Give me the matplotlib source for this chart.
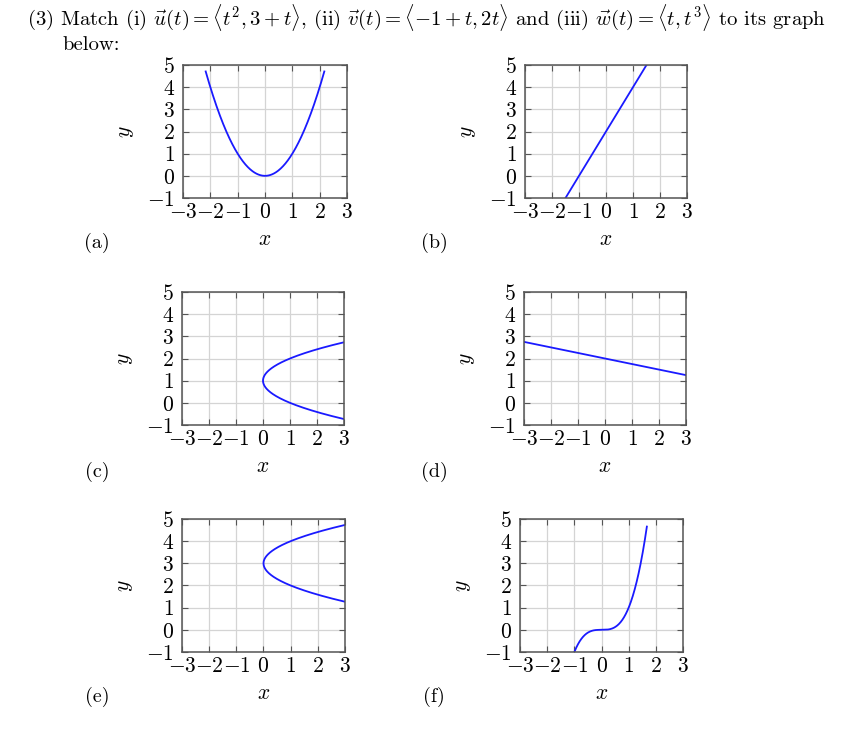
import numpy as np
import matplotlib
matplotlib.use("Agg")
import matplotlib.pyplot as plt

plt.rcParams['mathtext.fontset'] = 'cm'
plt.rcParams['font.family'] = ['cmr10', 'DejaVu Serif']
plt.rcParams['axes.unicode_minus'] = False

# ---- data ----
panel_labels = ["(a)", "(b)", "(c)", "(d)", "(e)", "(f)"]
x_ticks = [-3, -2, -1, 0, 1, 2, 3]
y_ticks = [-1, 0, 1, 2, 3, 4, 5]
x_tick_labels = [r"$-3$", r"$-2$", r"$-1$", r"$0$", r"$1$", r"$2$", r"$3$"]
y_tick_labels = [r"$-1$", r"$0$", r"$1$", r"$2$", r"$3$", r"$4$", r"$5$"]
x_limits = [-3, 3]
y_limits = [-1, 5]

# parameter ranges for each curve
t_a = [-2.17, 2.17]      # (t, t^2)
t_b = [-0.5, 2.5]        # (-1+t, 2t)
t_c = [-1.732, 1.732]    # (t^2, 1+t)
t_d = [-3.0, 3.0]        # (t, 2 - t/4)
t_e = [-1.732, 1.732]    # (t^2, 3+t)
t_f = [-1.0, 1.67]       # (t, t^3)

def curve(rng, fx, fy, n=300):
    t = np.linspace(rng[0], rng[1], n)
    return fx(t), fy(t)

curves = [
    curve(t_a, lambda t: t, lambda t: t**2),
    curve(t_b, lambda t: -1 + t, lambda t: 2 * t),
    curve(t_c, lambda t: t**2, lambda t: 1 + t),
    curve(t_d, lambda t: t, lambda t: 2 - t / 4),
    curve(t_e, lambda t: t**2, lambda t: 3 + t),
    curve(t_f, lambda t: t, lambda t: t**3),
]

W, H = 862, 732
fig = plt.figure(figsize=(W / 100, H / 100), dpi=100)

# axes boxes in pixels: x0, x1, y0(top), y1(bottom)
boxes = [
    (183, 347, 65, 198),
    (525, 687, 65, 198),
    (182, 344, 292, 425),
    (524, 686, 292, 425),
    (182, 345, 519, 652),
    (520, 683, 519, 652),
]
label_pos = [(97, 243), (434, 243), (97, 472), (434, 472), (97, 697), (434, 697)]

fs = 15.5
spine_col = '#555555'
for i, (x0, x1, y0, y1) in enumerate(boxes):
    w, h = x1 - x0, y1 - y0
    ax = fig.add_axes([x0 / W, 1 - y1 / H, w / W, h / H])
    xs, ys = curves[i]
    ax.plot(xs, ys, color='#1a1aff', lw=1.3, clip_on=True)
    ax.set_xlim(x_limits)
    ax.set_ylim(y_limits)
    ax.set_xticks(x_ticks)
    ax.set_yticks(y_ticks)
    ax.set_xticklabels(x_tick_labels, fontsize=fs)
    ax.set_yticklabels(y_tick_labels, fontsize=fs)
    ax.grid(True, color='#d4d4d4', lw=0.9)
    ax.set_axisbelow(True)
    ax.tick_params(direction='in', top=True, right=True, length=4, width=0.8,
                   color=spine_col)
    ax.tick_params(axis='x', pad=3)
    ax.tick_params(axis='y', pad=6)
    for s in ax.spines.values():
        s.set_color(spine_col)
        s.set_linewidth(1.1)
    ax.set_xlabel(r"$x$", fontsize=fs, va='center')
    ax.set_ylabel(r"$y$", fontsize=fs, va='center')
    ax.xaxis.set_label_coords(0.5, -41 / h)
    ax.yaxis.set_label_coords(-57 / w, 0.5)
    lx, ly = label_pos[i]
    fig.text(lx / W, 1 - ly / H, panel_labels[i], fontsize=14.5, ha='center', va='center')

title1 = (r"(3) Match (i) $\vec{u}(t) = \langle t^2, 3+t\rangle$, (ii) "
          r"$\vec{v}(t) = \langle {-1}+t, 2t\rangle$ and (iii) "
          r"$\vec{w}(t) = \langle t, t^3\rangle$ to its graph")
fig.text(27 / W, 1 - 25 / H, title1, fontsize=14.9, ha='left', va='baseline')
fig.text(62 / W, 1 - 50 / H, "below:", fontsize=14.9, ha='left', va='baseline')

fig.savefig("out.png", dpi=100)
